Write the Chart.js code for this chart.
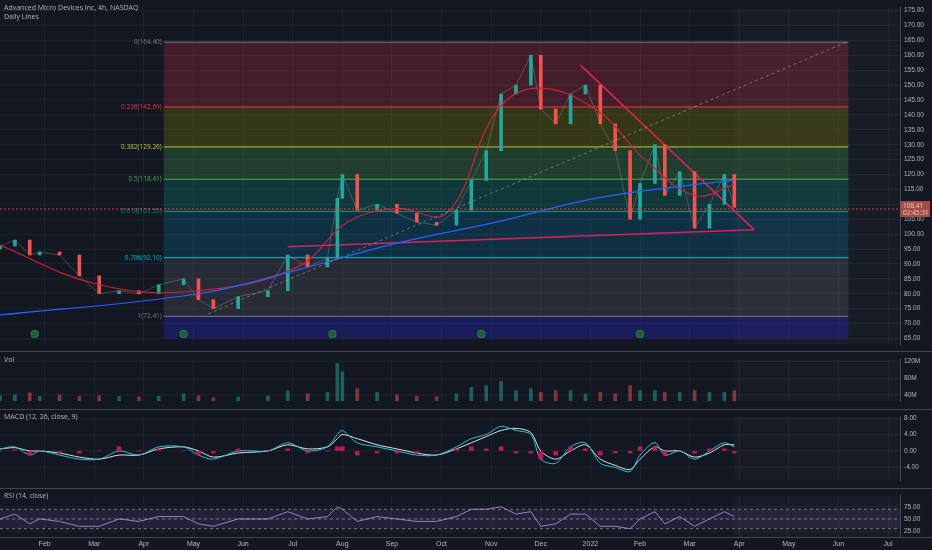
<!DOCTYPE html>
<html>
<head>
<meta charset="utf-8">
<script src="https://cdn.jsdelivr.net/npm/chart.js@4"></script>
<style>
  body { margin: 0; background: #131722; width: 932px; height: 550px; overflow: hidden; font-family: "Open Sans", sans-serif; }
  canvas { position: absolute; left: 0; }
  .lbl { position: absolute; left: 4px; color: #b2b5be; font-size: 7px; }
  .sep { position: absolute; left: 0; width: 932px; height: 1px; background: #434651; }
</style>
</head>
<body>
<canvas id="price" style="top:0px" width="932" height="352"></canvas>
<canvas id="vol" style="top:352px" width="932" height="57"></canvas>
<canvas id="macd" style="top:409px" width="932" height="79"></canvas>
<canvas id="rsi" style="top:488px" width="932" height="62"></canvas>
<div class="lbl" style="top:3px">Advanced Micro Devices Inc, 4h, NASDAQ</div>
<div class="lbl" style="top:12px">Daily Lines</div>
<div class="lbl" style="top:355px">Vol</div>
<div class="lbl" style="top:412px">MACD (12, 26, close, 9)</div>
<div class="lbl" style="top:491px">RSI (14, close)</div>
<div class="sep" style="top:351px"></div>
<div class="sep" style="top:409px"></div>
<div class="sep" style="top:488px"></div>
<div class="sep" style="top:537px"></div>
<script>
// time in months since Jan 1 2021
const months = [0.1,0.4,0.7,0.9,1.3,1.7,2.1,2.5,2.9,3.3,3.8,4.1,4.4,4.9,5.5,5.9,6.3,6.7,6.9,7.0,7.3,7.7,8.1,8.5,8.9,9.3,9.6,9.9,10.2,10.5,10.8,11.0,11.3,11.6,11.9,12.2,12.5,12.8,13.0,13.3,13.5,13.8,14.1,14.4,14.7,14.9];
const closes = [96,98,93,94,93,86,80,81,80,83,85,78,75,79,81,93,89,92,112,120,108,110,107,104,103,108,118,128,147,150,160,142,137,147,150,137,128,105,117,130,113,121,102,110,120,109];
const volumes = [38,40,45,36,40,36,38,36,35,37,42,38,33,35,37,50,42,46,115,95,55,46,40,37,36,42,58,62,72,50,55,46,50,50,42,46,42,62,50,50,46,46,50,46,46,50];
const macdLine = [0.5,1,-1,0,-1,-2,-2,0,-1,1,1,-1,-2,0,0,2,0,1,4,5,2,1,0,-1,-1,1,3,4,6,5,4,-2,-3,1,2,-3,-4,-5,-1,2,-1,0,-2,0,2,1];
const signalLine = [0.5,0.8,0,0,-0.5,-1.5,-2,-1,-1,0.5,1,0,-1.5,-0.5,0,1.5,0.5,1,3,4,3,1.5,0.5,-0.5,-1,0.5,2,3.5,5,5.5,4.5,0,-2,0,1.5,-2,-3.5,-4.5,-2,1,0,0,-1.5,-0.5,1.5,1.5];
const rsiValues = [50,60,40,50,45,35,35,50,45,55,55,40,35,50,50,65,50,55,75,70,45,55,50,45,45,55,70,70,75,60,65,35,40,60,60,35,35,30,50,65,40,55,35,50,65,55];

const maRedX = [0,2.1,4.1,6.1,7.1,8.1,9.1,10.1,10.9,12.1,13.1,14.1,14.9];
const maRedY = [97,83,81,89,104,108.6,107,141,149,142,125,113,116.6];
const maBlueX = [0,4.1,6.1,8.1,10.1,12.1,14.1,14.9];
const maBlueY = [72.7,80,88,97,104,112,116.6,118];

const fibLevels = [164.40,142.69,129.26,118.41,107.55,92.10,72.41];
const fibNames = ['0','0.236','0.382','0.5','0.618','0.786','1'];
const fibLine = ['#787b86','#f23645','#c0ca33','#4caf50','#089981','#00bcd4','#787b86'];
const fibFill = ['rgba(242,54,69,0.22)','rgba(128,128,0,0.3)','rgba(76,175,80,0.25)','rgba(8,153,129,0.25)','rgba(0,150,200,0.2)','rgba(120,123,134,0.2)','rgba(40,40,200,0.35)'];
const fibStart = 3.4, fibEnd = 17.2, fibBottom = 65;

const triUpperX = [11.8,15.3], triUpperY = [156.7,101.5];
const triLowerX = [5.9,15.3], triLowerY = [95.8,101.5];
const trendX = [4.3,17.2], trendY = [73.3,164.7];
const earningsX = [0.8,3.8,6.8,9.8,13.0];

const monthTicks = ['Jan','Feb','Mar','Apr','May','Jun','Jul','Aug','Sep','Oct','Nov','Dec','2022','Feb','Mar','Apr','May','Jun','Jul'];
const lastPrice = 108.41;
const xMin = 0.1, xMax = 18.24, dataEnd = 14.9;

const grid = '#1e222d';
const pts = (xs, ys) => xs.map((x, i) => ({x: x, y: ys[i]}));

function xScale(showTicks) {
  return {
    type: 'linear', min: xMin, max: xMax, offset: false,
    grid: { color: grid, drawTicks: false, offset: false },
    border: { display: false },
    afterBuildTicks: s => { s.ticks = monthTicks.map((_, i) => ({value: i})).filter(t => t.value >= xMin); },
    ticks: showTicks ? { color: '#b2b5be', font: {size: 7}, padding: 3, autoSkip: false, maxRotation: 0,
      callback: v => monthTicks[v] } : { display: false },
    afterFit: s => { s.height = showTicks ? 13 : 0; }
  };
}
function yScale(min, max, ticks, fmt) {
  return {
    position: 'right', min: min, max: max,
    grid: { color: grid, drawTicks: false },
    border: { color: '#434651' },
    afterBuildTicks: s => { s.ticks = ticks.map(v => ({value: v})); },
    ticks: { color: '#b2b5be', font: {size: 6.5}, padding: 4, callback: fmt },
    afterFit: s => { s.width = 32; }
  };
}
const futureShade = {
  id: 'futureShade',
  beforeDatasetsDraw(chart) {
    const {ctx, chartArea, scales} = chart;
    const x0 = scales.x.getPixelForValue(dataEnd);
    ctx.save();
    ctx.fillStyle = 'rgba(255,255,255,0.025)';
    ctx.fillRect(x0, chartArea.top, chartArea.right - x0, chartArea.bottom - chartArea.top);
    ctx.restore();
  }
};
const fibPlugin = {
  id: 'fib',
  beforeDatasetsDraw(chart) {
    const {ctx, scales} = chart;
    const x0 = scales.x.getPixelForValue(fibStart), x1 = scales.x.getPixelForValue(fibEnd);
    ctx.save();
    ctx.font = '6.5px "Open Sans"';
    ctx.textAlign = 'right'; ctx.textBaseline = 'middle';
    fibLevels.forEach((lv, i) => {
      const y = scales.y.getPixelForValue(lv);
      const yn = scales.y.getPixelForValue(i < fibLevels.length - 1 ? fibLevels[i + 1] : fibBottom);
      ctx.fillStyle = fibFill[i];
      ctx.fillRect(x0, y, x1 - x0, yn - y);
      ctx.strokeStyle = fibLine[i]; ctx.lineWidth = 1;
      ctx.beginPath(); ctx.moveTo(x0, y); ctx.lineTo(x1, y); ctx.stroke();
      ctx.fillStyle = fibLine[i];
      ctx.fillText(fibNames[i] + '(' + lv.toFixed(2) + ')', x0 - 2, y);
    });
    ctx.restore();
  },
  afterDraw(chart) {
    const {ctx, scales, chartArea} = chart;
    const y = scales.y.getPixelForValue(lastPrice);
    ctx.save();
    ctx.setLineDash([2, 2]); ctx.strokeStyle = '#f23645';
    ctx.beginPath(); ctx.moveTo(chartArea.left, y); ctx.lineTo(chartArea.right, y); ctx.stroke();
    ctx.setLineDash([]);
    ctx.fillStyle = '#a84a4a';
    ctx.fillRect(chartArea.right, y - 8, 30, 16);
    ctx.fillStyle = '#d0e0b0'; ctx.font = '6.5px "Open Sans"'; ctx.textBaseline = 'middle';
    ctx.fillText(lastPrice.toFixed(2), chartArea.right + 3, y - 3);
    ctx.fillText('02:45:31', chartArea.right + 3, y + 4);
    ctx.restore();
  }
};

const candles = closes.map((c, i) => ({x: months[i], y: [i ? closes[i - 1] : c - 1, c]}));
const candleColors = candles.map(p => p.y[1] >= p.y[0] ? '#26a69a' : '#ef5350');
const baseOpts = { responsive: false, animation: false, layout: { padding: 0, autoPadding: false },
  plugins: { legend: { display: false }, tooltip: { enabled: false } } };

new Chart(document.getElementById('price'), {
  data: { datasets: [
    { type: 'line', data: pts(trendX, trendY), borderColor: 'rgba(180,180,190,0.5)', borderDash: [3, 3], borderWidth: 1, pointRadius: 0 },
    { type: 'line', data: pts(maBlueX, maBlueY), borderColor: '#2962ff', borderWidth: 1.2, pointRadius: 0, tension: 0.4 },
    { type: 'line', data: pts(maRedX, maRedY), borderColor: '#d0203c', borderWidth: 1.2, pointRadius: 0, tension: 0.4 },
    { type: 'bar', data: candles, backgroundColor: candleColors, barThickness: 3 },
    { type: 'line', data: pts(months, closes), borderColor: 'rgba(200,200,200,0.35)', borderWidth: 0.8, pointRadius: 0 },
    { type: 'line', data: pts(triUpperX, triUpperY), borderColor: '#e0205a', borderWidth: 1.5, pointRadius: 0 },
    { type: 'line', data: pts(triLowerX, triLowerY), borderColor: '#e0205a', borderWidth: 1.5, pointRadius: 0 },
    { type: 'scatter', data: earningsX.map(x => ({x: x, y: 66.5})), pointRadius: 4, pointStyle: 'rectRounded', backgroundColor: '#1b5e3a', borderColor: '#2e7d52' }
  ]},
  options: Object.assign({}, baseOpts, { scales: {
    x: xScale(false),
    y: yScale(63.1, 175.9, [65,70,75,80,85,90,95,100,105,110,115,120,125,130,135,140,145,150,155,160,165,170,175], v => v.toFixed(2))
  }}),
  plugins: [futureShade, fibPlugin]
});

new Chart(document.getElementById('vol'), {
  type: 'bar',
  data: { datasets: [{ data: pts(months, volumes), barThickness: 3,
    backgroundColor: candleColors.map(c => c === '#26a69a' ? 'rgba(38,166,154,0.5)' : 'rgba(239,83,80,0.5)') }] },
  options: Object.assign({}, baseOpts, { scales: {
    x: xScale(false),
    y: yScale(25, 123.3, [40,80,120], v => v + 'M')
  }}),
  plugins: [futureShade]
});

new Chart(document.getElementById('macd'), {
  data: { datasets: [
    { type: 'bar', data: months.map((m, i) => ({x: m, y: macdLine[i] - signalLine[i]})), backgroundColor: '#c2185b', barThickness: 4 },
    { type: 'line', data: pts(months, macdLine), borderColor: '#26c6da', borderWidth: 1, pointRadius: 0, tension: 0.3 },
    { type: 'line', data: pts(months, signalLine), borderColor: '#e0e0e0', borderWidth: 1, pointRadius: 0, tension: 0.3 }
  ]},
  options: Object.assign({}, baseOpts, { scales: {
    x: xScale(false),
    y: yScale(-7.1, 8.3, [-4,0,4,8], v => v.toFixed(2))
  }}),
  plugins: [futureShade]
});

const rsiBand = {
  id: 'rsiBand',
  beforeDatasetsDraw(chart) {
    const {ctx, chartArea, scales} = chart;
    const y70 = scales.y.getPixelForValue(70), y30 = scales.y.getPixelForValue(30);
    ctx.save();
    ctx.fillStyle = 'rgba(126,87,194,0.15)';
    ctx.fillRect(chartArea.left, y70, chartArea.right - chartArea.left, y30 - y70);
    ctx.setLineDash([3, 3]); ctx.strokeStyle = '#787b86';
    [70, 50, 30].forEach(v => {
      const y = scales.y.getPixelForValue(v);
      ctx.beginPath(); ctx.moveTo(chartArea.left, y); ctx.lineTo(chartArea.right, y); ctx.stroke();
    });
    ctx.restore();
  }
};
new Chart(document.getElementById('rsi'), {
  type: 'line',
  data: { datasets: [{ data: pts(months, rsiValues), borderColor: '#b39ddb', borderWidth: 0.8, pointRadius: 0 }] },
  options: Object.assign({}, baseOpts, { scales: {
    x: xScale(true),
    y: yScale(13, 97.4, [25,50,75], v => v.toFixed(2))
  }}),
  plugins: [futureShade, rsiBand]
});
</script>
</body>
</html>
